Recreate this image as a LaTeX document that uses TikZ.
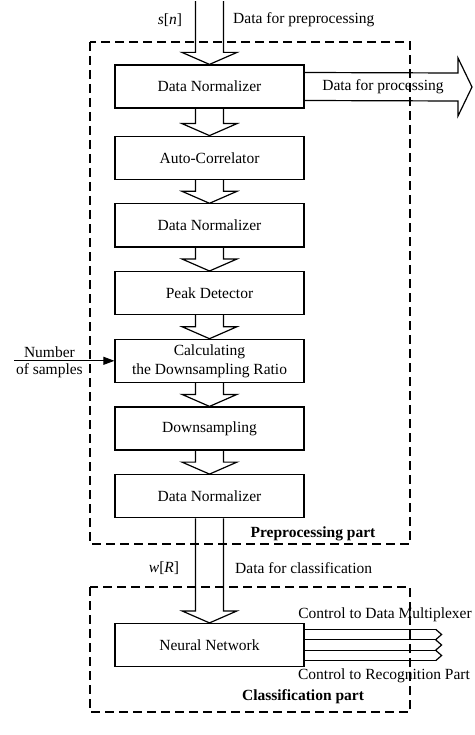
\documentclass[tikz,border=0pt]{standalone}
\usepackage{fontspec}
\setmainfont{Liberation Serif}
\usetikzlibrary{arrows.meta, positioning, calc}

% hollow block arrow from the bottom of #1 to the top of #2
\newcommand{\hollowdown}[2]{%
  \draw[bigarrow] ($(#1.south)+(-14,0)$) -- ($(#2.north)+(-14,12)$)
    -- ($(#2.north)+(-27.5,12)$) -- (#2.north) -- ($(#2.north)+(27.5,12)$)
    -- ($(#2.north)+(14,12)$) -- ($(#1.south)+(14,0)$);}

\begin{document}
\begin{tikzpicture}[
    x=1pt, y=1pt,
    font=\fontsize{15.5pt}{19pt}\selectfont,
    node distance=23.5pt,
    block/.style={rectangle, draw=black, line width=1.2pt, minimum width=189pt, minimum height=43pt, inner sep=0pt, align=center},
    bigarrow/.style={line width=1.2pt, line join=miter},
    dashbox/.style={line width=1.2pt, dash pattern=on 9pt off 5pt},
    txt/.style={inner sep=1pt},
    arrow/.style={line width=0.9pt, -{Triangle[length=11pt, width=8pt]}}
]
\useasboundingbox (0,0) rectangle (474,-735);

% dashed parts
\draw[dashbox] (90,-42) rectangle (410,-544);
\draw[dashbox] (90,-587) rectangle (410,-712);
\node[txt, font=\fontsize{15.5pt}{19pt}\selectfont\bfseries] (prelabel) at (313,-534) {Preprocessing part};
\node[txt, font=\fontsize{15.5pt}{19pt}\selectfont\bfseries] (clslabel) at (303,-697) {Classification part};

% blocks
\node[txt] (src) at (209.5,0) {};
\node (dn1) [block] at (209.5,-86.5) {Data Normalizer};
\node (ac) [block, below=27pt of dn1] {Auto-Correlator};
\node (dn2) [block, below=of ac] {Data Normalizer};
\node (pd) [block, below=of dn2] {Peak Detector};
\node (calc) [block, below=of pd] {Calculating\\the Downsampling Ratio};
\node (ds) [block, below=of calc] {Downsampling};
\node (dn3) [block, below=of ds] {Data Normalizer};
\node (nn) [block] at (209.5,-645) {Neural Network};

% block arrows
\hollowdown{src}{dn1}
\hollowdown{dn1}{ac}
\hollowdown{ac}{dn2}
\hollowdown{dn2}{pd}
\hollowdown{pd}{calc}
\hollowdown{calc}{ds}
\hollowdown{ds}{dn3}
\hollowdown{dn3}{nn}

\node[txt] (sn) at (170,-20) {\textit{s}[\textit{n}]};
\node[txt, anchor=west] (sntext) at (232,-20) {Data for preprocessing};
\node[txt] (wr) at (164,-568) {\textit{w}[\textit{R}]};
\node[txt, anchor=west] (wrtext) at (234,-568) {Data for classification};

% output for processing
\coordinate (pout) at (472,-87);
\draw[bigarrow] ($(dn1.east)+(0,14)$) -- ($(pout)+(-14,14)$) -- ($(pout)+(-14,29)$)
  -- (pout) -- ($(pout)+(-14,-29)$) -- ($(pout)+(-14,-14)$) -- ($(dn1.east)+(0,-14)$);
\node[txt] (pouttext) at (383,-87) {Data for processing};

% number of samples
\coordinate (nsrc) at ($(calc.west)+(-100,0)$);
\draw[arrow] (nsrc) -- node[pos=0.35, above=2pt, txt] {Number}
  node[pos=0.35, below=1pt, txt] {of samples} (calc.west);

% control outputs
\foreach \dy in {15.75, 5.25, -5.25, -15.75}
  \draw[line width=1.2pt] ($(nn.east)+(0,\dy)$) -- ($(nn.east)+(131,\dy)$);
\draw[bigarrow] ($(nn.east)+(131,15.75)$) -- ++(6,-5.25) -- ++(-6,-5.25) -- ++(6,-5.25)
  -- ++(-6,-5.25) -- ++(6,-5.25) -- ++(-6,-5.25);
\node[txt] (cmux) at (385,-615) {Control to Data Multiplexer};
\node[txt] (crec) at (384,-676) {Control to Recognition Part};
\end{tikzpicture}
\end{document}
